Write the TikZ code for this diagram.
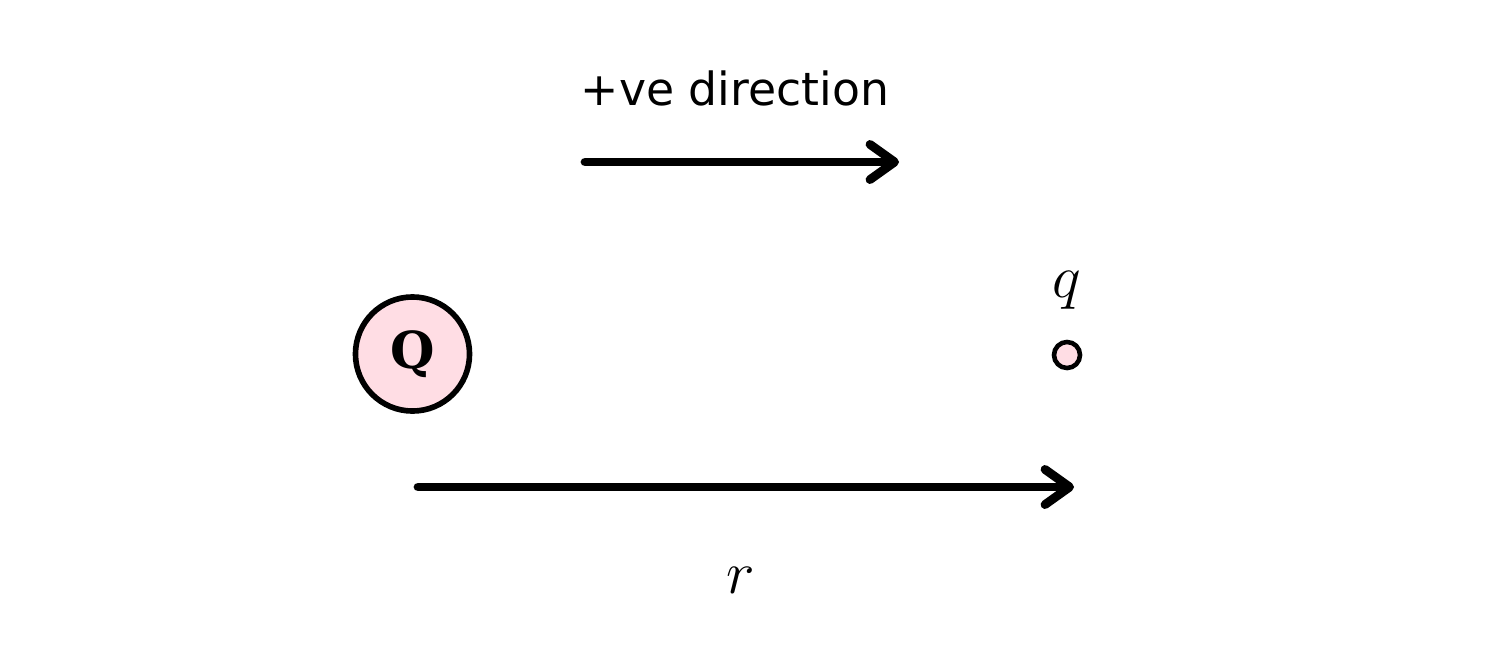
\documentclass[tikz,border=0pt]{standalone}
\usepackage{fontspec}
\setmainfont{DejaVu Sans}
\newfontfamily\qserif{DejaVu Serif}
\usetikzlibrary{arrows.meta}
\definecolor{chargepink}{RGB}{255,221,228}
\tikzset{
  dirarrow/.style={line width=2.5pt, line cap=round,
    -{Straight Barb[length=7pt, width=10pt, round]}},
  bigcharge/.style={circle, draw=black, line width=1.6pt, fill=chargepink,
    minimum size=1.14cm, inner sep=0pt, font=\qserif\bfseries\fontsize{14.5}{17}\selectfont},
  smallcharge/.style={circle, draw=black, line width=1.3pt, fill=chargepink,
    minimum size=0.26cm, inner sep=0pt},
  mathlabel/.style={font=\fontsize{18.5}{22}\selectfont, inner sep=0pt},
  dirlabel/.style={font=\fontsize{13}{16}\selectfont, inner sep=0pt, anchor=base}
}
\begin{document}
\begin{tikzpicture}[x=0.01cm, y=-0.01cm]
\useasboundingbox (0,0) rectangle (1486,648);
\node[dirlabel] (dirtext) at (735,105) {+ve direction};
\coordinate (topstart) at (585,162);
\coordinate (topend) at (899,162);
\draw[dirarrow] (topstart) -- (topend);
\node[bigcharge] (Q) at (412.5,354) {Q};
\node[smallcharge] (q) at (1067,355) {};
\node[mathlabel, anchor=base] (qlabel) at (1067,297) {$q$};
\coordinate (botstart) at (418,487);
\coordinate (botend) at (1074,487);
\draw[dirarrow] (botstart) -- (botend);
\node[mathlabel, anchor=base] (rlabel) at (741,593) {$r$};
\end{tikzpicture}
\end{document}
